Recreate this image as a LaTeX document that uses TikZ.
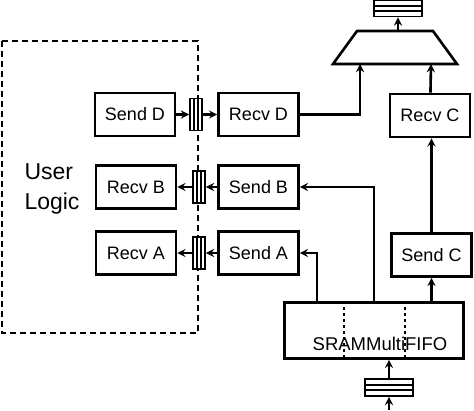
\documentclass[tikz,border=0pt]{standalone}
\usepackage{fontspec}
\setmainfont{Liberation Sans}
\begin{document}
\begin{tikzpicture}[x=1pt,y=-1pt, >=stealth,
  blk/.style={draw, rectangle, line width=2.6pt, minimum width=80pt, minimum height=43pt, inner sep=0pt, font=\fontsize{18}{20}\selectfont},
  vfifo/.style={draw, fill=white, rectangle, minimum width=12pt, minimum height=32pt, inner sep=0pt, line width=1.8pt,
    path picture={\draw[line width=1.6pt] ([xshift=-2.2pt]path picture bounding box.north) -- ([xshift=-2.2pt]path picture bounding box.south);
      \draw[line width=1.6pt] ([xshift=2.2pt]path picture bounding box.north) -- ([xshift=2.2pt]path picture bounding box.south);}},
  hfifo/.style={draw, fill=white, rectangle, minimum width=48pt, minimum height=16pt, inner sep=0pt, line width=1.8pt,
    path picture={\draw[line width=1.6pt] ([yshift=-2.6pt]path picture bounding box.west) -- ([yshift=-2.6pt]path picture bounding box.east);
      \draw[line width=1.6pt] ([yshift=2.6pt]path picture bounding box.west) -- ([yshift=2.6pt]path picture bounding box.east);}},
  conn/.style={->, line width=2.6pt}]
\useasboundingbox (0,0) rectangle (474,410);
% user logic region
\draw[dashed, dash pattern=on 6pt off 4pt, line width=2.4pt] (2,41) rectangle (198,333);
\node (user) at (52,189) [align=left, font=\fontsize{23}{30}\selectfont] {User\\Logic};
\node (sendD) at (135,114.5) [blk] {Send D};
\node (recvB) at (136,187) [blk] {Recv B};
\node (recvA) at (136,253) [blk] {Recv A};
\node (fD) at (196,114.5) [vfifo] {};
\node (fB) at (199,187) [vfifo] {};
\node (fA) at (199,253) [vfifo] {};
\node (recvD) at (258.5,114.5) [blk] {Recv D};
\node (sendB) at (258.5,187) [blk] {Send B};
\node (sendA) at (258.5,253) [blk] {Send A};
\node (recvC) at (430,115.5) [blk] {Recv C};
\node (sendC) at (431.5,255) [blk] {Send C};
% output mux
\draw[line width=2.6pt] (333,64) -- (357,31) -- (433,31) -- (457,64) -- cycle;
\coordinate (muxL) at (360,64);
\coordinate (muxR) at (431,64);
\coordinate (muxT) at (398,31);
\node (topf) at (398,8.5) [hfifo] {};
\node (sram) at (374,330.5) [blk, minimum width=179pt, minimum height=56pt] {};
\node (sramtxt) at (380,350) [anchor=base, font=\fontsize{18.5}{20}\selectfont] {SRAMMultiFIFO};
\node (botf) at (389,387.5) [hfifo, minimum height=17pt] {};
\coordinate (in) at (389,410);
\draw[dashed, line width=1.3pt] ([xshift=-30pt]sram.north) -- ([xshift=-30pt]sram.south);
\draw[dashed, line width=1.3pt] ([xshift=31pt]sram.north) -- ([xshift=31pt]sram.south);
\draw[conn] (sendD) -- (fD);
\draw[conn] (fD) -- (recvD);
\draw[conn] (sendB) -- (fB);
\draw[conn] (fB) -- (recvB);
\draw[conn] (sendA) -- (fA);
\draw[conn] (fA) -- (recvA);
\draw[conn] (recvD) -| (muxL);
\draw[conn] (recvC) -- (muxR);
\draw[conn] (muxT) -- (topf);
\draw[conn] (sendC) -- (sendC |- recvC.south);
\draw[conn] (sendC |- sram.north) -- (sendC);
\draw[conn] (sram.north) |- (sendB);
\draw[conn] ([xshift=-57pt]sram.north) |- (sendA);
\draw[conn] (botf) -- (botf |- sram.south);
\draw[conn] (in) -- (botf);
\end{tikzpicture}
\end{document}
